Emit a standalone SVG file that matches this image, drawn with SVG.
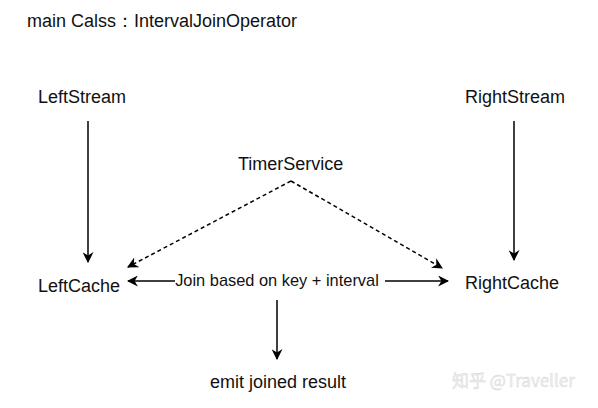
<svg xmlns="http://www.w3.org/2000/svg" width="598" height="408" viewBox="0 0 598 408">
<style>
text{font-family:"Liberation Sans",Arial,sans-serif;font-size:18px;fill:#111}
.lbl{font-size:16.4px}
.ln{stroke:#000;stroke-width:1.5;fill:none}
.dash{stroke-dasharray:4 3}
.wm{font-family:"Noto Sans CJK SC","Liberation Sans",sans-serif;font-size:17px;fill:#f0f0f0;stroke:#d6d6d6;stroke-width:0.4}
</style>
<defs>
<marker id="ahs" viewBox="0 0 10 10" refX="9" refY="5" markerWidth="11" markerHeight="11" markerUnits="userSpaceOnUse" orient="auto">
<path d="M0,0 L10,5 L0,10 L3,5 z" fill="#000"/>
</marker>
</defs>
<rect width="598" height="408" fill="#fff"/>
<text x="27" y="27">main Calss：IntervalJoinOperator</text>
<g id="connectors">
<line class="ln" x1="88" y1="121" x2="88" y2="262" marker-end="url(#ahs)"/>
<line class="ln" x1="514" y1="121" x2="514" y2="260" marker-end="url(#ahs)"/>
<polyline class="ln dash" points="291,181 128,267" marker-end="url(#ahs)"/>
<polyline class="ln dash" points="291,181 442,268" marker-end="url(#ahs)"/>
<line class="ln" x1="175" y1="281" x2="128" y2="281" marker-end="url(#ahs)"/>
<line class="ln" x1="385" y1="281" x2="448" y2="281" marker-end="url(#ahs)"/>
<line class="ln" x1="277" y1="300" x2="277" y2="359" marker-end="url(#ahs)"/>
<text class="lbl" x="277" y="286" text-anchor="middle">Join based on key + interval</text>
</g>
<g id="LeftStream"><text x="38" y="103">LeftStream</text></g>
<g id="RightStream"><text x="465" y="103">RightStream</text></g>
<g id="TimerService"><text x="238" y="170">TimerService</text></g>
<g id="LeftCache"><text x="38" y="292">LeftCache</text></g>
<g id="RightCache"><text x="465" y="289">RightCache</text></g>
<g id="emit"><text x="210" y="388">emit joined result</text></g>
<text class="wm" x="452" y="387">知乎 @Traveller</text>
</svg>
